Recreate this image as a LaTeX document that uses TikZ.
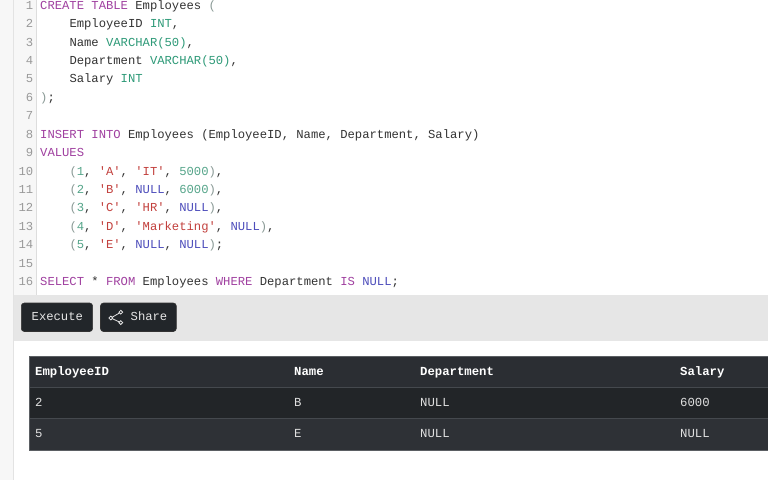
\documentclass[tikz,border=0pt]{standalone}
\usepackage{fontspec}
\newfontfamily\code{Liberation Mono}
\definecolor{stripbg}{HTML}{F7F7F7}
\definecolor{stripline}{HTML}{E3E3E3}
\definecolor{gutline}{HTML}{DDDDDD}
\definecolor{lnumc}{HTML}{999999}
\definecolor{plainc}{HTML}{333333}
\definecolor{kwc}{HTML}{A040A0}
\definecolor{tyc}{HTML}{2E9A78}
\definecolor{strc}{HTML}{C2403D}
\definecolor{numc}{HTML}{55A58A}
\definecolor{nullc}{HTML}{4D4DBB}
\definecolor{brc}{HTML}{8A9A96}
\definecolor{barc}{HTML}{E6E6E6}
\definecolor{btnc}{HTML}{22262A}
\definecolor{btntxt}{HTML}{E6E6E6}
\definecolor{thead}{HTML}{2B2E33}
\definecolor{trowa}{HTML}{222528}
\definecolor{trowb}{HTML}{2E3136}
\definecolor{tline}{HTML}{45494E}
\definecolor{touter}{HTML}{5B5F63}
\newcommand\sqkw[1]{\textcolor{kwc}{#1}}
\newcommand\sqty[1]{\textcolor{tyc}{#1}}
\newcommand\sqstr[1]{\textcolor{strc}{#1}}
\newcommand\sqnum[1]{\textcolor{numc}{#1}}
\newcommand\sqnull[1]{\textcolor{nullc}{#1}}
\newcommand\sqbr[1]{\textcolor{brc}{#1}}
\tikzset{
  x=1pt, y=-1pt,
  codeline/.style={anchor=base west, inner sep=0pt, font=\code\fontsize{12.2}{14}\selectfont\frenchspacing, text=plainc},
  lnum/.style={anchor=base east, inner sep=0pt, font=\code\fontsize{12.2}{14}\selectfont, text=lnumc},
  btnbox/.style={draw=black!80, fill=btnc, rounded corners=3pt, line width=0.6pt},
  btntext/.style={anchor=base west, inner sep=0pt, font=\code\fontsize{12.2}{14}\selectfont, text=btntxt},
  thtext/.style={anchor=base west, inner sep=0pt, font=\code\bfseries\fontsize{12.3}{14}\selectfont, text=white},
  tdtext/.style={anchor=base west, inner sep=0pt, font=\code\fontsize{12.3}{14}\selectfont, text=white!88!black},
}
\begin{document}
\begin{tikzpicture}
\useasboundingbox (0,0) rectangle (768,480);
\fill[white] (0,0) rectangle (768,480);
% left strip
\fill[stripbg] (0,0) rectangle (13.5,480);
\draw[stripline, line width=0.8pt] (13.5,0) -- (13.5,480);
% gutter
\fill[stripbg] (14,0) rectangle (36,295);
\draw[gutline, line width=0.8pt] (36.2,0) -- (36.2,295);
% line numbers
\foreach \i in {1,...,16}{
  \node[lnum] (n\i) at (33.5, {9.3+(\i-1)*18.42}) {\i};
}
% code
\node[codeline] (c1) at (40, 9.3) {\sqkw{CREATE} \sqkw{TABLE} Employees \sqbr{(}};
\node[codeline] (c2) at (69.3, 27.72) {EmployeeID \sqty{INT},};
\node[codeline] (c3) at (69.3, 46.14) {Name \sqty{VARCHAR(50)},};
\node[codeline] (c4) at (69.3, 64.56) {Department \sqty{VARCHAR(50)},};
\node[codeline] (c5) at (69.3, 82.98) {Salary \sqty{INT}};
\node[codeline] (c6) at (40, 101.4) {\sqbr{)};};
\node[codeline] (c8) at (40, 138.24) {\sqkw{INSERT} \sqkw{INTO} Employees (EmployeeID, Name, Department, Salary)};
\node[codeline] (c9) at (40, 156.66) {\sqkw{VALUES}};
\node[codeline] (c10) at (69.3, 175.08) {\sqbr{(}\sqnum{1}, \sqstr{'A'}, \sqstr{'IT'}, \sqnum{5000}\sqbr{)},};
\node[codeline] (c11) at (69.3, 193.5) {\sqbr{(}\sqnum{2}, \sqstr{'B'}, \sqnull{NULL}, \sqnum{6000}\sqbr{)},};
\node[codeline] (c12) at (69.3, 211.92) {\sqbr{(}\sqnum{3}, \sqstr{'C'}, \sqstr{'HR'}, \sqnull{NULL}\sqbr{)},};
\node[codeline] (c13) at (69.3, 230.34) {\sqbr{(}\sqnum{4}, \sqstr{'D'}, \sqstr{'Marketing'}, \sqnull{NULL}\sqbr{)},};
\node[codeline] (c14) at (69.3, 248.76) {\sqbr{(}\sqnum{5}, \sqstr{'E'}, \sqnull{NULL}, \sqnull{NULL}\sqbr{)};};
\node[codeline] (c16) at (40, 285.6) {\sqkw{SELECT} * \sqkw{FROM} Employees \sqkw{WHERE} Department \sqkw{IS} \sqnull{NULL};};
% gray bar
\fill[barc] (14,295) rectangle (768,341);
% buttons
\draw[btnbox] (21.3,303) rectangle (92.6,331.5);
\node[btntext] (exec) at (31.5, 320.5) {Execute};
\draw[btnbox] (100.5,303) rectangle (176.3,331.5);
\node[btntext] (share) at (130.5, 320.5) {Share};
\begin{scope}[draw=btntxt, line width=0.8pt]
  \coordinate (sl) at (110.8,318);
  \coordinate (st) at (120.8,312.2);
  \coordinate (sb) at (120.8,322.6);
  \draw (sl) -- (st);
  \draw (sl) -- (sb);
  \draw[fill=btnc] (sl) circle (1.9);
  \draw[fill=btnc] (st) circle (1.9);
  \draw[fill=btnc] (sb) circle (1.9);
\end{scope}
% table
\fill[thead] (29.3,356) rectangle (772,387.5);
\fill[trowa] (29.3,387.5) rectangle (772,418.3);
\fill[trowb] (29.3,418.3) rectangle (772,450);
\draw[tline, line width=0.8pt] (29.3,387.5) -- (772,387.5);
\draw[tline, line width=0.8pt] (29.3,418.3) -- (772,418.3);
\draw[touter, line width=0.9pt] (772,356) -- (29.3,356) -- (29.3,450) -- (772,450);
\node[thtext] (h1) at (35, 375.2) {EmployeeID};
\node[thtext] (h2) at (294, 375.2) {Name};
\node[thtext] (h3) at (420, 375.2) {Department};
\node[thtext] (h4) at (680, 375.2) {Salary};
\node[tdtext] (r11) at (35, 406.3) {2};
\node[tdtext] (r12) at (294, 406.3) {B};
\node[tdtext] (r13) at (420, 406.3) {NULL};
\node[tdtext] (r14) at (680, 406.3) {6000};
\node[tdtext] (r21) at (35, 437.8) {5};
\node[tdtext] (r22) at (294, 437.8) {E};
\node[tdtext] (r23) at (420, 437.8) {NULL};
\node[tdtext] (r24) at (680, 437.8) {NULL};
\end{tikzpicture}
\end{document}
